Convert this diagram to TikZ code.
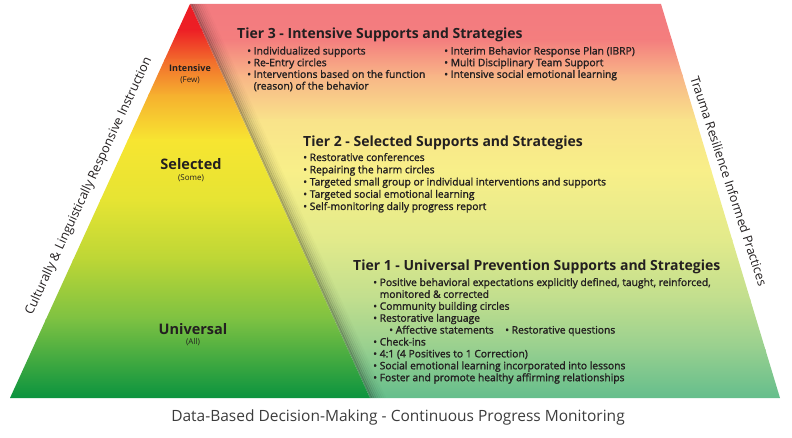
\documentclass[tikz,border=0pt]{standalone}
\usepackage{fontspec}
\setmainfont{Open Sans}
\newfontfamily\itemfont[FakeBold=1.5]{Open Sans}
\usepackage{xcolor}

% Colours
\definecolor{ink}{HTML}{231F20}
\definecolor{inkgray}{HTML}{3C3C3C}
\definecolor{rp0}{HTML}{F27A80}
\definecolor{rp1}{HTML}{F47E7E}
\definecolor{rp2}{HTML}{F8B487}
\definecolor{rp3}{HTML}{F9E38A}
\definecolor{rp4}{HTML}{F8EF89}
\definecolor{rp5}{HTML}{E2EA8B}
\definecolor{rp6}{HTML}{C0DE8E}
\definecolor{rp7}{HTML}{96CF8F}
\definecolor{rp8}{HTML}{62BD8C}
\definecolor{tr0}{HTML}{ED1C24}
\definecolor{tr1}{HTML}{ED1F25}
\definecolor{tr2}{HTML}{F26B2C}
\definecolor{tr3}{HTML}{F6B02F}
\definecolor{tr4}{HTML}{F7E531}
\definecolor{tr5}{HTML}{E6E433}
\definecolor{tr6}{HTML}{BCD636}
\definecolor{tr7}{HTML}{7CC142}
\definecolor{tr8}{HTML}{07923F}

\newcommand{\bul}{\textbullet\ }

\begin{document}
\begin{tikzpicture}[x=1pt, y=-1pt,
    tiertitle/.style={anchor=base west, inner sep=0pt, text=ink, font=\fontsize{14}{17}\selectfont\bfseries},
    tieritem/.style={anchor=base west, inner sep=0pt, text=ink, font=\fontsize{10.3}{12}\selectfont\itemfont},
    levelname/.style={anchor=base, inner sep=0pt, text=ink, font=\fontsize{14.5}{17}\selectfont\bfseries},
    levelnote/.style={anchor=base, inner sep=0pt, text=ink, font=\fontsize{8}{9}\selectfont},
    sidelabel/.style={inner sep=0pt, text=ink, font=\fontsize{12.6}{15}\selectfont}]
    % Frame
    \useasboundingbox (0,0) rectangle (792,438);

    % Corners
    \coordinate (A) at (190,4);
    \coordinate (B) at (10,398);
    \coordinate (C) at (370,398);
    \coordinate (D) at (661,4);
    \coordinate (E) at (780,398);

    % Right panel
    \begin{scope}
        \clip (A) -- (D) -- (E) -- (C) -- cycle;
        \foreach \ya/\ca/\yb/\cb in {0/rp0/40/rp1, 40/rp1/75/rp2, 75/rp2/120/rp3, 120/rp3/170/rp4,
                170/rp4/240/rp5, 240/rp5/300/rp6, 300/rp6/350/rp7, 350/rp7/400/rp8}
            \shade[top color=\ca, bottom color=\cb] (180,\ya-0.5) rectangle (790,\yb+0.5);
        % Shadow
        \foreach \d/\o in {1/0.26, 3/0.2, 5/0.15, 7/0.11, 9/0.08, 11/0.05, 13/0.03, 15/0.015}
            \draw[black, opacity=\o, line width=2.2pt] (190+\d,4) -- (370+\d,398);
    \end{scope}

    % Pyramid
    \begin{scope}
        \clip (A) -- (B) -- (C) -- cycle;
        \foreach \ya/\ca/\yb/\cb in {0/tr0/30/tr1, 30/tr1/60/tr2, 60/tr2/95/tr3, 95/tr3/140/tr4,
                140/tr4/200/tr5, 200/tr5/260/tr6, 260/tr6/320/tr7, 320/tr7/400/tr8}
            \shade[top color=\ca, bottom color=\cb] (0,\ya-0.5) rectangle (380,\yb+0.5);
    \end{scope}

    % Levels
    \node[levelname, font=\fontsize{9}{11}\selectfont\bfseries] (intensive) at (190,72) {Intensive};
    \node[levelnote] (few) at (190,82.5) {(Few)};
    \node[levelname] (selected) at (191,170) {Selected};
    \node[levelnote] (some) at (191,180.5) {(Some)};
    \node[levelname] (universal) at (193,334) {Universal};
    \node[levelnote] (all) at (193,344.5) {(All)};

    % Tier 3
    \node[tiertitle] (tier3) at (237,39) {Tier 3 - Intensive Supports and Strategies};
    \foreach \txt [count=\i] in {\bul Individualized supports, \bul Re-Entry circles,
            \bul Interventions based on the function, \phantom{\bul}(reason) of the behavior}
        \node[tieritem] (tier3a\i) at (247,42.8+11.7*\i) {\txt};
    \foreach \txt [count=\i] in {\bul Interim Behavior Response Plan (IBRP),
            \bul Multi Disciplinary Team Support, \bul Intensive social emotional learning}
        \node[tieritem] (tier3b\i) at (444,42.8+11.7*\i) {\txt};

    % Tier 2
    \node[tiertitle] (tier2) at (303,147) {Tier 2 - Selected Supports and Strategies};
    \foreach \txt [count=\i] in {\bul Restorative conferences, \bul Repairing the harm circles,
            \bul Targeted small group or individual interventions and supports,
            \bul Targeted social emotional learning, \bul Self-monitoring daily progress report}
        \node[tieritem] (tier2a\i) at (303,148.75+12.25*\i) {\txt};

    % Tier 1
    \node[tiertitle] (tier1) at (353,270) {Tier 1 - Universal Prevention Supports and Strategies};
    \foreach \n/\txt in {1/{\bul Positive behavioral expectations explicitly defined, taught, reinforced,},
            2/{\phantom{\bul}monitored \& corrected}, 3/{\bul Community building circles},
            4/{\bul Restorative language}, 6/{\bul Check-ins}, 7/{\bul 4:1 (4 Positives to 1 Correction)},
            8/{\bul Social emotional learning incorporated into lessons},
            9/{\bul Foster and promote healthy affirming relationships}}
        \node[tieritem] (tier1a\n) at (373,274.1+11.9*\n) {\txt};
    \node[tieritem] (tier1sub1) at (389,333.6) {\bul Affective statements};
    \node[tieritem] (tier1sub2) at (505,333.6) {\bul Restorative questions};

    % Side labels
    \node[sidelabel, rotate=65] (culture) at (89,186) {Culturally \& Linguistically Responsive Instruction};
    \node[sidelabel, rotate=-71.8] (trauma) at (729,181) {Trauma Resilience Informed Practices};

    % Footer
    \node[inner sep=0pt, text=inkgray, font=\fontsize{15.5}{18}\selectfont] (footer) at (398,417)
        {Data-Based Decision-Making - Continuous Progress Monitoring};
\end{tikzpicture}
\end{document}
